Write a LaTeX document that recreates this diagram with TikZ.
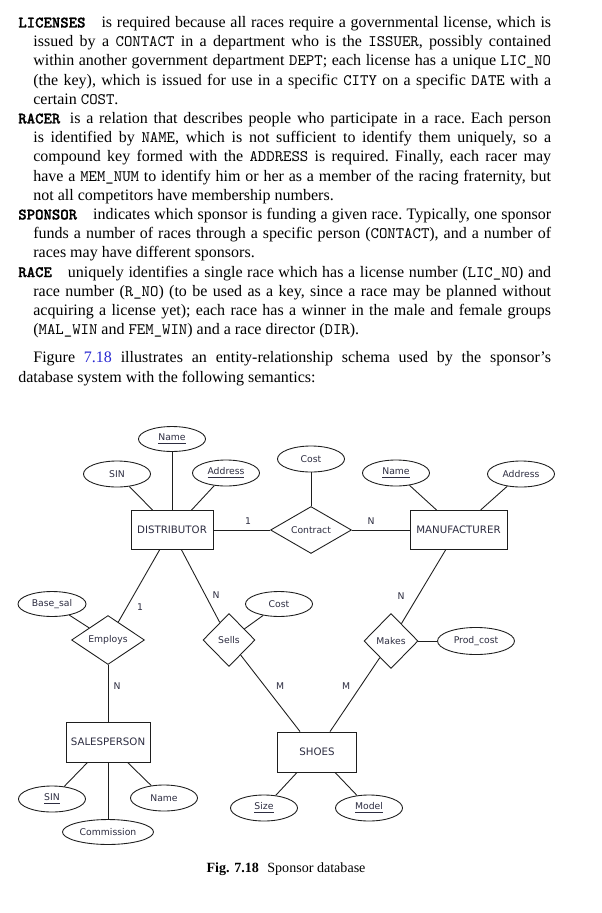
\documentclass[tikz,border=0pt]{standalone}
\usepackage{fontspec}
\setmainfont{Liberation Serif}
\newfontfamily\djv{DejaVu Sans}
\newfontfamily\kwfont{lmmonolt10-bold.otf}[FakeBold=1.2]
\usetikzlibrary{shapes.geometric,calc}
\definecolor{linkblue}{RGB}{40,40,210}
\definecolor{dtext}{RGB}{45,45,65}
\definecolor{dline}{RGB}{30,30,30}
\newcommand\txline[1]{\hbox to 333pt{#1}}
\newcommand\txlast[1]{\hbox to 333pt{#1\hfil}}
\newcommand\hi{\hspace*{9.4pt}}
\newcommand\kw[1]{{\kwfont #1}}
\newcommand\cd[1]{\texttt{#1}}
\newcommand\entfont{\djv\fontsize{6.4}{7.5}\selectfont}
\newcommand\attrfont{\djv\fontsize{5.8}{7}\selectfont}
\tikzset{
  ent/.style={draw=dline, rectangle, line width=0.55pt, inner sep=0pt, font=\entfont, text=dtext},
  attr/.style={draw=dline, ellipse, line width=0.55pt, inner sep=0pt, minimum width=41.9pt, minimum height=16.25pt, font=\attrfont, text=dtext},
  rel/.style={draw=dline, diamond, line width=0.55pt, inner sep=0pt, font=\attrfont, text=dtext},
  card/.style={inner sep=0pt, font=\attrfont, text=dtext},
  conn/.style={draw=dline, line width=0.55pt}
}
\begin{document}
\begin{tikzpicture}[x=0.625pt, y=-0.625pt]
\useasboundingbox[fill=white] (0,0) rectangle (601,913);
% ---------- text ----------
\node[anchor=base west, inner sep=0pt] (txt) at (18,27.5) {\vtop{\fontsize{10}{12}\selectfont\frenchspacing
\txline{\kw{LICENSES}\hspace{1em}is required because all races require a governmental license, which is}
\txline{\hi issued by a \cd{CONTACT} in a department who is the \cd{ISSUER}, possibly contained}
\txline{\hi within another government department \cd{DEPT}; each license has a unique \cd{LIC\_NO}}
\txline{\hi (the key), which is issued for use in a specific \cd{CITY} on a specific \cd{DATE} with a}
\txlast{\hi certain \cd{COST}.}
\txline{\kw{RACER}\hspace{0.6em}is a relation that describes people who participate in a race. Each person}
\txline{\hi is identified by \cd{NAME}, which is not sufficient to identify them uniquely, so a}
\txline{\hi compound key formed with the \cd{ADDRESS} is required. Finally, each racer may}
\txline{\hi have a \cd{MEM\_NUM} to identify him or her as a member of the racing fraternity, but}
\txlast{\hi not all competitors have membership numbers.}
\txline{\kw{SPONSOR}\hspace{1em}indicates which sponsor is funding a given race. Typically, one sponsor}
\txline{\hi funds a number of races through a specific person (\cd{CONTACT}), and a number of}
\txlast{\hi races may have different sponsors.}
\txline{\kw{RACE}\hspace{1em}uniquely identifies a single race which has a license number (\cd{LIC\_NO}) and}
\txline{\hi race number (\cd{R\_NO}) (to be used as a key, since a race may be planned without}
\txline{\hi acquiring a license yet); each race has a winner in the male and female groups}
\txlast{\hi (\cd{MAL\_WIN} and \cd{FEM\_WIN}) and a race director (\cd{DIR}).}
\vskip 5.6pt
\txline{\hi Figure \textcolor{linkblue}{7.18} illustrates an entity-relationship schema used by the sponsor's}
\txlast{database system with the following semantics:}
}};
% ---------- entities ----------
\node[ent, minimum width=51.25pt, minimum height=24.4pt] (dist) at (172,530) {DISTRIBUTOR};
\node[ent, minimum width=60.6pt, minimum height=24.4pt] (manuf) at (458.5,530) {MANUFACTURER};
\node[ent, minimum width=52.5pt, minimum height=25pt] (sales) at (108,742) {SALESPERSON};
\node[ent, minimum width=49.4pt, minimum height=25pt] (shoes) at (317,752) {SHOES};
% ---------- relationships ----------
\node[rel, minimum width=50.6pt, minimum height=25pt] (contract) at (311,530) {Contract};
\node[rel, minimum width=45.6pt, minimum height=30.6pt] (employs) at (108,640) {Employs};
\node[rel, minimum width=32.5pt, minimum height=33.1pt] (sells) at (229,640) {Sells};
\node[rel, minimum width=33.75pt, minimum height=34.4pt] (makes) at (391,641) {Makes};
% ---------- attributes ----------
\node[attr, minimum height=15.6pt] (dname) at (172,439) {\underline{Name}};
\node[attr] (dsin) at (117,474) {SIN};
\node[attr] (daddr) at (226,473) {\underline{Address}};
\node[attr] (ccost) at (311,459) {Cost};
\node[attr] (mname) at (396,473) {\underline{Name}};
\node[attr] (maddr) at (521,474) {Address};
\node[attr, minimum width=42.5pt, minimum height=15.6pt] (basesal) at (52,604) {Base\_sal};
\node[attr, minimum height=15.6pt] (scost) at (279,604) {Cost};
\node[attr, minimum width=48.1pt, minimum height=16.9pt] (prodcost) at (476,641) {Prod\_cost};
\node[attr] (ssin) at (52,799) {\underline{SIN}};
\node[attr] (sname) at (164,798) {Name};
\node[attr, minimum width=56.9pt, minimum height=15.6pt] (comm) at (108,832) {Commission};
\node[attr] (size) at (264,808) {\underline{Size}};
\node[attr] (model) at (369,808) {\underline{Model}};
% ---------- connectors ----------
\draw[conn] (dsin) -- ($(dist.north west)+(22,0)$);
\draw[conn] (dname) -- (dist);
\draw[conn] (daddr) -- ($(dist.north west)+(61,0)$);
\draw[conn] (ccost) -- (contract);
\draw[conn] (dist) -- (contract);
\draw[conn] (contract) -- (manuf);
\draw[conn] (mname) -- ($(manuf.north west)+(27,0)$);
\draw[conn] (maddr) -- ($(manuf.north west)+(71,0)$);
\draw[conn] ($(dist.south west)+(29,0)$) -- (employs);
\draw[conn] ($(dist.south west)+(51,0)$) -- (sells);
\draw[conn] ($(manuf.south west)+(36,0)$) -- (makes);
\draw[conn] (basesal) -- (employs);
\draw[conn] (sells) -- (scost);
\draw[conn] (makes) -- (prodcost);
\draw[conn] (employs) -- (sales);
\draw[conn] (sells) -- ($(shoes.north west)+(23,0)$);
\draw[conn] (makes) -- ($(shoes.north west)+(53,0)$);
\draw[conn] ($(sales.south west)+(22,0)$) -- (ssin);
\draw[conn] (sales) -- (comm);
\draw[conn] ($(sales.south west)+(62,0)$) -- (sname);
\draw[conn] ($(shoes.south west)+(20,0)$) -- (size);
\draw[conn] ($(shoes.south west)+(58,0)$) -- (model);
% ---------- cardinalities ----------
\node[card] (c1) at (248,521) {1};
\node[card] (c2) at (371,521) {N};
\node[card] (c3) at (140,607) {1};
\node[card] (c4) at (216,595) {N};
\node[card] (c5) at (401,596) {N};
\node[card] (c6) at (117,686) {N};
\node[card] (c7) at (280,686) {M};
\node[card] (c8) at (346,686) {M};
% ---------- caption ----------
\node[anchor=base, inner sep=0pt, font=\fontsize{8.8}{10}\selectfont] (cap) at (286,872) {\textbf{Fig. 7.18}\hspace{0.6em}Sponsor database};
\end{tikzpicture}
\end{document}
